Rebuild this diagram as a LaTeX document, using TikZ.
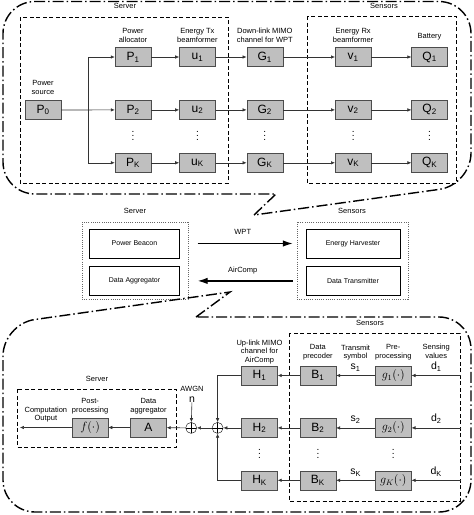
\documentclass[tikz,border=0pt]{standalone}
\usepackage{fontspec}
\setmainfont{Liberation Sans}
\usetikzlibrary{positioning, calc, arrows.meta}

\begin{document}
\begin{tikzpicture}[
		x = 1pt, y = -1pt,
		blk/.style = {draw=black!70, fill=black!25, minimum width=36pt, minimum height=19pt, inner sep=0pt, font=\fontsize{12}{12}\selectfont},
		lbl/.style = {inner sep=0pt, align=center, font=\fontsize{7.5}{8.5}\selectfont},
		sublbl/.style = {inner sep=0pt, font=\fontsize{10.5}{11}\selectfont},
		vdotsnode/.style = {inner sep=0pt, yshift=3pt},
		wbox/.style = {draw, fill=white, minimum width=90pt, minimum height=29pt, inner sep=0pt, font=\fontsize{7}{8}\selectfont},
		grp/.style = {draw, line width=1pt, dash pattern=on 4pt off 2.5pt},
		dotbox/.style = {draw=black!60, line width=0.6pt, dash pattern=on 1pt off 1.2pt},
		bubble/.style = {draw, line width=1.4pt, dash pattern=on 11pt off 3pt on 1.5pt off 3pt},
		sig/.style = {draw=black!80, line width=0.6pt, -{Latex[length=4pt,width=3.5pt]}},
		bigarrow/.style = {line width=1.3pt, -{Latex[length=10pt,width=6.5pt]}},
		adder/.style = {draw, circle, fill=white, minimum size=11pt, inner sep=0pt,
			path picture={\draw (path picture bounding box.north) -- (path picture bounding box.south)
				(path picture bounding box.west) -- (path picture bounding box.east);}}
	]
	\useasboundingbox (0,0) rectangle (474,515);
	% down-link WPT
	\draw[bubble] (254,215) -- (276,194) [rounded corners=32pt] -- (3,194) -- (3,1.5) -- (471,1.5) -- (471,185) [sharp corners] -- cycle;
	\draw[grp] (20,17) rectangle (228,183);
	\draw[grp] (307,16) rectangle (456,183);
	\node[lbl] (srv1) at (125,6) {Server};
	\node[lbl] (sns1) at (384,6) {Sensors};
	%
	\node[blk] (p0) at (43,110) {P\textsubscript{0}};
	\node[blk] (p1) at (133,57) {P\textsubscript{1}};
	\node[blk] (p2) [below=33.5pt of p1] {P\textsubscript{2}};
	\node[blk] (pK) [below=33.5pt of p2] {P\textsubscript{K}};
	\foreach \i in {1,2,K} {
		\node[blk] (u\i) [right=28pt of p\i] {u\textsubscript{\i}};
		\node[blk] (g\i) [right=31pt of u\i] {G\textsubscript{\i}};
		\node[blk] (v\i) [right=52pt of g\i] {v\textsubscript{\i}};
		\node[blk] (q\i) [right=40pt of v\i] {Q\textsubscript{\i}};
	}
	\foreach \c in {p,u,g,v,q}
		\node[vdotsnode] (dots\c) at ($(\c2)!.5!(\c K)$) {$\vdots$};
	%
	\node[lbl] (hdp0) [above=6pt of p0] {Power\\source};
	\node[lbl] (hdp) [above=5pt of p1] {Power\\allocator};
	\node[lbl] (hdu) [above=5pt of u1] {Energy Tx\\beamformer};
	\node[lbl] (hdg) [above=5pt of g1] {Down-link MIMO\\channel for WPT};
	\node[lbl] (hdv) [above=5pt of v1] {Energy Rx\\beamformer};
	\node[lbl] (hdq) [above=7pt of q1] {Battery};
	%
	\coordinate (split) at (88,110);
	\draw[sig] (p0) -- (p2);
	\draw[sig] (split) |- (p1);
	\draw[sig] (split) |- (pK);
	\foreach \i in {1,2,K} {
		\draw[sig] (p\i) -- (u\i);
		\draw[sig] (u\i) -- (g\i);
		\draw[sig] (g\i) -- (v\i);
		\draw[sig] (v\i) -- (q\i);
	}

	% overview
	\draw[dotbox] (82,222) rectangle (188,299);
	\draw[dotbox] (297,222) rectangle (408,299);
	\node[lbl] (srv2) at (135,211) {Server};
	\node[lbl] (sns2) at (352,211) {Sensors};
	\node[wbox] (beacon) at (134.5,243.5) {Power Beacon};
	\node[wbox] (aggr) [below=8pt of beacon] {Data Aggregator};
	\node[wbox, minimum width=94pt] (harv) at (353,243.5) {Energy Harvester};
	\node[wbox, minimum width=94pt] (trans) [below=8pt of harv] {Data Transmitter};
	\draw[bigarrow, shorten <=18pt, shorten >=13pt] (beacon) -- node[lbl, above=8pt] (wpt) {WPT} (harv);
	\draw[bigarrow, shorten <=13pt, shorten >=18pt] (trans) -- node[lbl, above=6pt] (aircomp) {AirComp} (aggr);

	% up-link AirComp
	\draw[bubble] (196,317) -- (230,292) [rounded corners=32pt] -- (3,324) -- (3,512) -- (471,512) -- (471,317) [sharp corners] -- cycle;
	\draw[grp] (17,389) rectangle (176,447);
	\draw[grp] (289,333) rectangle (460,501);
	\node[lbl] (srv3) at (97,379) {Server};
	\node[lbl] (sns3) at (370,323) {Sensors};
	%
	\node[blk] (h1) at (259.5,375.5) {H\textsubscript{1}};
	\node[blk] (h2) [below=33pt of h1] {H\textsubscript{2}};
	\node[blk] (hK) [below=33pt of h2] {H\textsubscript{K}};
	\foreach \i in {1,2,K} {
		\node[blk] (b\i) [right=22pt of h\i] {B\textsubscript{\i}};
		\node[blk] (pre\i) [right=39pt of b\i] {$g_{\i}(\cdot)$};
		\coordinate [right=49.5pt of pre\i.east] (d\i);
		\draw[sig] (d\i) -- node[sublbl, above=4pt] (dl\i) {d\textsubscript{\i}} (pre\i);
		\draw[sig] (pre\i) -- node[sublbl, above=4pt] (sl\i) {s\textsubscript{\i}} (b\i);
		\draw[sig] (b\i) -- (h\i);
	}
	\foreach \c in {h,b,pre}
		\node[vdotsnode] (dots\c) at ($(\c2)!.5!(\c K)$) {$\vdots$};
	%
	\node[adder] (add2) [left=18pt of h2] {};
	\node[adder] (add1) [left=15pt of add2] {};
	\node[blk] (agg) at (148.5,427.5) {A};
	\node[blk] (post) [left=22pt of agg] {$f(\cdot)$};
	\coordinate [left=52pt of post.west] (out);
	\node[lbl] (awgn) at (192,389) {AWGN};
	\node[sublbl] (noise) [below=4.5pt of awgn] {n};
	%
	\draw[sig] (h1) -| (add2);
	\draw[sig] (hK) -| (add2);
	\draw[sig] (h2) -- (add2);
	\draw[sig] (noise) -- (add1);
	\draw[sig] (add2) -- (add1);
	\draw[sig] (add1) -- (agg);
	\draw[sig] (agg) -- (post);
	\draw[sig] (post) -- node[lbl, above=5pt] (outl) {Computation\\Output} (out);
	%
	\node[lbl] (hdh) [above=2pt of h1] {Up-link MIMO\\channel for\\AirComp};
	\node[lbl] (hdb) [above=6pt of b1] {Data\\precoder};
	\node[lbl] (hds) [above=3pt of sl1] {Transmit\\symbol};
	\node[lbl] (hdpre) [above=6pt of pre1] {Pre-\\processing};
	\node[lbl] (hdd) [above=3pt of dl1] {Sensing\\values};
	\node[lbl] (hdpost) [above=4pt of post] {Post-\\processing};
	\node[lbl] (hdagg) [above=4pt of agg] {Data\\aggregator};
\end{tikzpicture}
\end{document}
